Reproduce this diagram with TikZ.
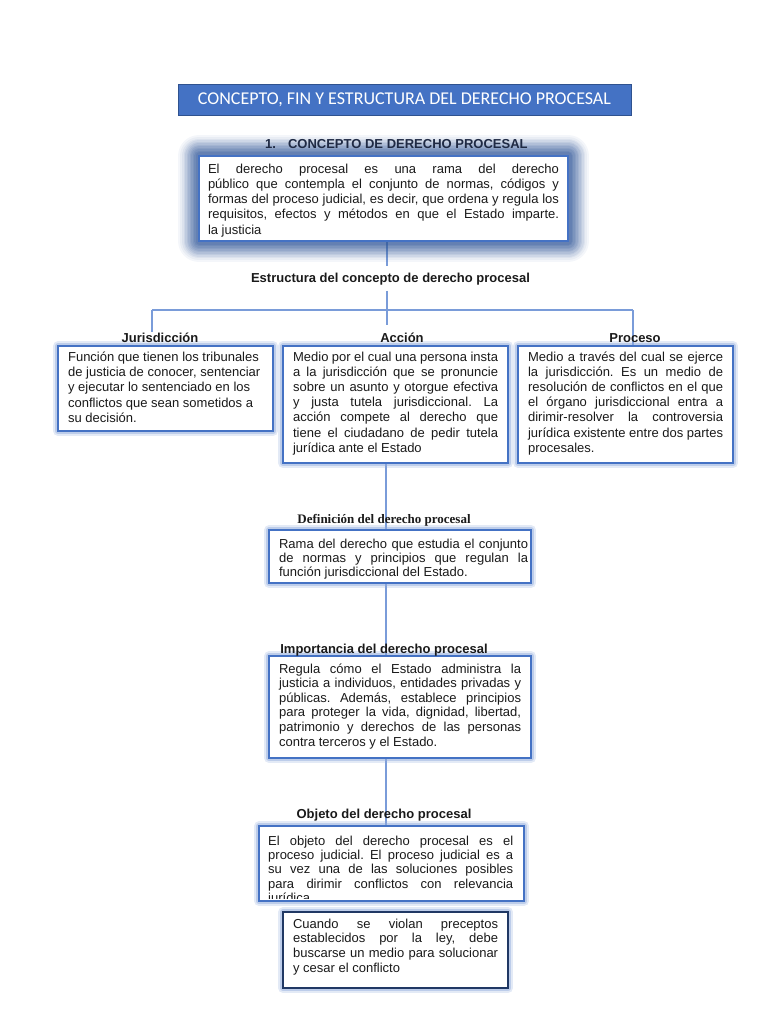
\documentclass[tikz,border=0pt]{standalone}
\usepackage{fontspec}
\setmainfont{Liberation Sans}
\newfontfamily\titlefont{Carlito}
\newfontfamily\seriffont{Liberation Serif}
\usetikzlibrary{backgrounds}
\definecolor{boxblue}{HTML}{4472C4}
\definecolor{glowblue}{HTML}{8FAADC}
\definecolor{linkblue}{HTML}{7A9CD9}
\definecolor{titleedge}{HTML}{2F528F}
\definecolor{deepblue}{HTML}{2F5597}
\definecolor{navyedge}{HTML}{203864}
\definecolor{headc}{HTML}{1F2A44}
\definecolor{txtc}{HTML}{1A1A1A}
\hyphenpenalty=10000 \exhyphenpenalty=10000 \tolerance=9999
\frenchspacing
\newcommand{\btext}[4]{\parbox[c][#2pt][t]{#1pt}{\frenchspacing\fontsize{13}{#3pt}\selectfont\rule{0pt}{10pt}#4}}
\tikzset{
  cbox/.style={draw=boxblue, line width=2.2pt, fill=white, text=txtc, anchor=north west,
    preaction={draw=glowblue, line width=10pt, opacity=0.25, line join=round},
    preaction={draw=glowblue, line width=6pt, opacity=0.45, line join=round}},
  topbox/.style={draw=boxblue, line width=2pt, fill=white, text=txtc, anchor=north west,
    preaction={draw=deepblue, line width=42pt, opacity=0.05, line join=round},
    preaction={draw=deepblue, line width=38pt, opacity=0.06, line join=round},
    preaction={draw=deepblue, line width=34pt, opacity=0.07, line join=round},
    preaction={draw=deepblue, line width=31pt, opacity=0.08, line join=round},
    preaction={draw=deepblue, line width=28pt, opacity=0.09, line join=round},
    preaction={draw=deepblue, line width=25pt, opacity=0.10, line join=round},
    preaction={draw=deepblue, line width=22pt, opacity=0.11, line join=round},
    preaction={draw=deepblue, line width=19pt, opacity=0.12, line join=round},
    preaction={draw=deepblue, line width=16pt, opacity=0.13, line join=round},
    preaction={draw=deepblue, line width=13pt, opacity=0.14, line join=round},
    preaction={draw=deepblue, line width=10pt, opacity=0.16, line join=round},
    preaction={draw=deepblue, line width=7pt, opacity=0.18, line join=round}},
  titlebox/.style={fill=boxblue, draw=titleedge, line width=0.8pt, text=white,
    minimum width=453pt, minimum height=31pt, inner sep=0pt,
    font=\titlefont\fontsize{18}{20}\selectfont},
  lab/.style={inner sep=0pt, anchor=base, text=txtc, font=\fontsize{13}{15}\selectfont\bfseries},
  link/.style={draw=linkblue, line width=1.1pt}
}
\begin{document}
\begin{tikzpicture}[x=1pt, y=-1pt]
\useasboundingbox (0,0) rectangle (768,1024);

\node[titlebox] (title) at (404.5,99.5) {CONCEPTO, FIN Y ESTRUCTURA DEL DERECHO PROCESAL};

\node[topbox, inner xsep=9pt, inner ysep=7pt] (top) at (198,155)
  {\btext{351}{71}{15.3}{El derecho procesal es una rama del derecho\linebreak
   público que contempla el conjunto de normas, códigos y\linebreak
   formas del proceso judicial, es decir, que ordena y regula los\linebreak
   requisitos, efectos y métodos en que el Estado imparte.\linebreak
   la justicia}};
\node[lab, anchor=base west, text=headc] (h1) at (265,149) {1.\hspace{12pt}CONCEPTO DE DERECHO PROCESAL};

\node[lab, inner ysep=6pt] (estr) at (390.5,282) {Estructura del concepto de derecho procesal};

\node[cbox, inner xsep=10pt, inner ysep=5pt] (jur) at (57,345)
  {\btext{195}{75}{15.3}{\raggedright Función que tienen los tribunales\\
   de justicia de conocer, sentenciar\\
   y ejecutar lo sentenciado en los\\
   conflictos que sean sometidos a\\
   su decisión.}};
\node[cbox, inner xsep=10pt, inner ysep=5pt] (acc) at (282,345)
  {\btext{205}{107}{15.2}{Medio por el cual una persona insta\linebreak
   a la jurisdicción que se pronuncie\linebreak
   sobre un asunto y otorgue efectiva\linebreak
   y justa tutela jurisdiccional. La\linebreak
   acción compete al derecho que\linebreak
   tiene el ciudadano de pedir tutela\linebreak
   jurídica ante el Estado}};
\node[cbox, inner xsep=10pt, inner ysep=5pt] (proc) at (517,345)
  {\btext{195}{107}{15.2}{Medio a través del cual se ejerce\linebreak
   la jurisdicción. Es un medio de\linebreak
   resolución de conflictos en el que\linebreak
   el órgano jurisdiccional entra a\linebreak
   dirimir-resolver la controversia\linebreak
   jurídica existente entre dos partes\linebreak
   procesales.}};
\node[lab] (jurlab) at (160,342) {Jurisdicción};
\node[lab] (acclab) at (402,342) {Acción};
\node[lab] (proclab) at (635,342) {Proceso};

\node[cbox, inner xsep=3pt, inner ysep=8pt] (def) at (268,529)
  {\btext{256}{37}{14}{\leftskip=7pt Rama del derecho que estudia el conjunto\linebreak
   de normas y principios que regulan la\linebreak
   función jurisdiccional del Estado.}};
\node[lab, font=\seriffont\fontsize{13}{15}\selectfont\bfseries] (deflab) at (384,523) {Definición del derecho procesal};

\node[cbox, inner xsep=10pt, inner ysep=7pt] (imp) at (268,655)
  {\btext{242}{88}{14.6}{Regula cómo el Estado administra la\linebreak
   justicia a individuos, entidades privadas y\linebreak
   públicas. Además, establece principios\linebreak
   para proteger la vida, dignidad, libertad,\linebreak
   patrimonio y derechos de las personas\linebreak
   contra terceros y el Estado.}};
\node[lab] (implab) at (384,653) {Importancia del derecho procesal};

\node[cbox, minimum width=265pt, minimum height=75pt] (obj) at (258,825) {};
\begin{scope}
  \clip ([xshift=1pt,yshift=4pt]obj.south west) rectangle ([xshift=-1pt,yshift=-1pt]obj.north east);
  \node[inner sep=0pt, anchor=north west, text=txtc] (objtxt) at ([xshift=10pt,yshift=-10pt]obj.north west)
  {\btext{245}{65}{14.3}{El objeto del derecho procesal es el\linebreak
   proceso judicial. El proceso judicial es a\linebreak
   su vez una de las soluciones posibles\linebreak
   para dirimir conflictos con relevancia\linebreak
   jurídica.}};
\end{scope}
\node[lab] (objlab) at (384,818) {Objeto del derecho procesal};

\node[cbox, draw=navyedge, inner xsep=10pt, inner ysep=6pt] (cuan) at (282,911)
  {\btext{205}{64}{14.7}{Cuando se violan preceptos\linebreak
   establecidos por la ley, debe\linebreak
   buscarse un medio para solucionar\linebreak
   y cesar el conflicto}};

\coordinate (sx) at (387,0);
\coordinate (sy) at (386,0);
\coordinate (hub) at (387,310);
\coordinate (hl) at (152,310);
\coordinate (hr) at (633,310);
\begin{scope}[on background layer]
  \draw[link] (sx |- top.south) -- (sx |- estr.north);
  \draw[link] (sx |- estr.south) -- (hub);
  \draw[link] (hl) -- (hr);
  \draw[link, shorten >=7pt] (hub) -- (sx |- acclab.north);
  \draw[link] (hl) -- (hl |- jurlab.north);
  \draw[link] (hr) -- (hr |- proc.north);
  \draw[link] (sy |- acc.south) -- (sy |- def.north);
  \draw[link] (sy |- def.south) -- (sy |- imp.north);
  \draw[link] (sy |- imp.south) -- (sy |- obj.north);
\end{scope}
\end{tikzpicture}
\end{document}
